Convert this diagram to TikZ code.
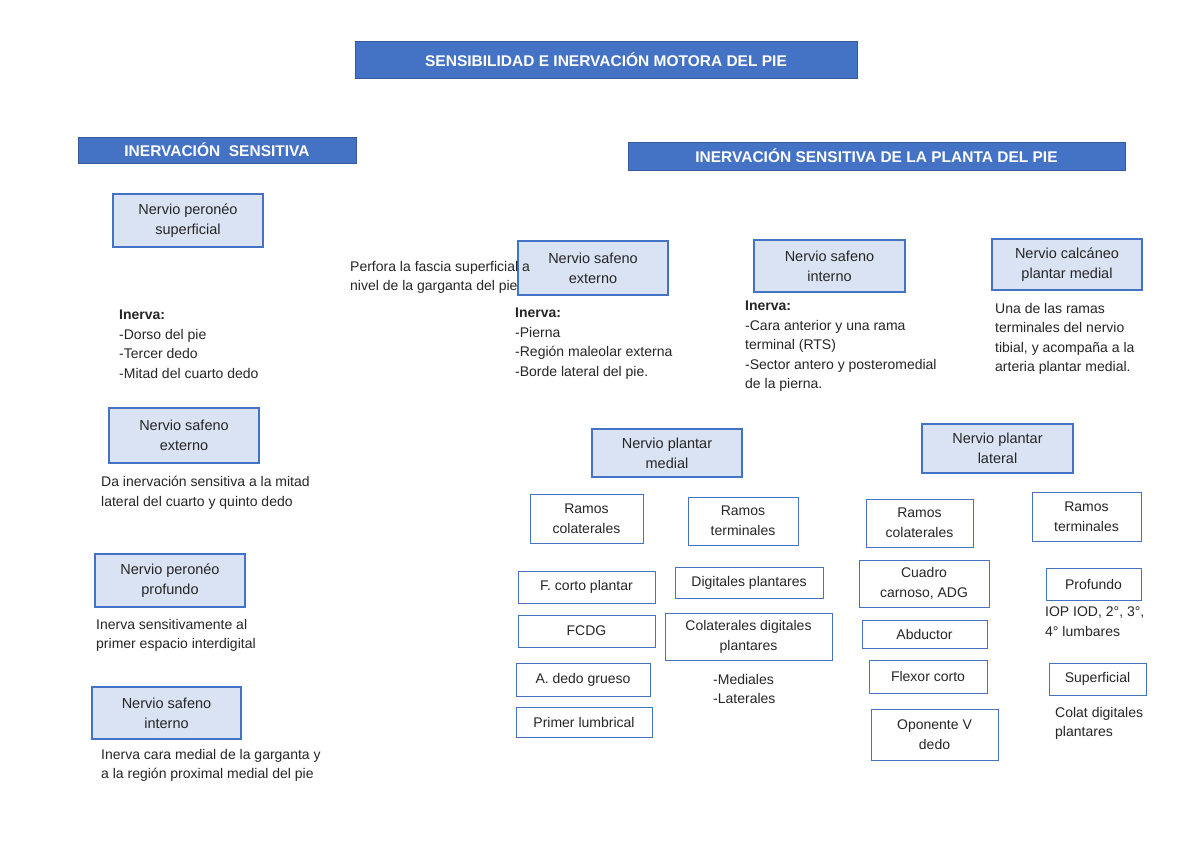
\documentclass[tikz,border=0pt]{standalone}
\usepackage{fontspec}
\setmainfont{Liberation Sans}
\definecolor{hb}{HTML}{4472C4}
\definecolor{lb}{HTML}{DAE3F3}
\definecolor{tx}{HTML}{262626}
\begin{document}
\begin{tikzpicture}[x=1pt,y=-1pt,
 hdr/.style={fill=hb,draw=hb!80!black,line width=0.8pt,text=white,font=\fontsize{15.5}{18}\selectfont\bfseries},
 nb/.style={fill=lb,draw=hb,line width=1.8pt,text=tx,align=center,font=\fontsize{14.5}{20}\selectfont},
 wb/.style={fill=white,draw=hb,line width=0.8pt,text=tx,align=center,font=\fontsize{14}{20}\selectfont},
 tt/.style={anchor=north west,align=left,text=tx,inner sep=0pt,font=\fontsize{14}{19.5}\selectfont}]
\useasboundingbox (0,0) rectangle (1200,848);
\fill[white] (0,0) rectangle (1200,848);
\newcommand\bx[6]{\node[#1,minimum width=#4-#2,minimum height=#5-#3,inner sep=1pt] (n#2x#3) at ({(#2+#4)/2},{(#3+#5)/2}) {#6};}
\bx{hdr}{355}{41}{857}{78}{SENSIBILIDAD E INERVACIÓN MOTORA DEL PIE}
\bx{hdr}{78}{137}{356}{163}{INERVACIÓN \ SENSITIVA}
\bx{hdr}{628}{142}{1125}{170}{INERVACIÓN SENSITIVA DE LA PLANTA DEL PIE}
\bx{nb}{113}{194}{263}{247}{Nervio peronéo\\superficial}
\bx{nb}{109}{408}{259}{463}{Nervio safeno\\externo}
\bx{nb}{95}{554}{245}{607}{Nervio peronéo\\profundo}
\bx{nb}{92}{687}{241}{739}{Nervio safeno\\interno}
\bx{nb}{518}{241}{668}{295}{Nervio safeno\\externo}
\bx{nb}{754}{240}{905}{292}{Nervio safeno\\interno}
\bx{nb}{992}{239}{1142}{290}{Nervio calcáneo\\plantar medial}
\bx{nb}{592}{429}{742}{477}{Nervio plantar\\medial}
\bx{nb}{922}{424}{1073}{473}{Nervio plantar\\lateral}
\bx{wb}{530}{494}{643}{543}{Ramos\\colaterales}
\bx{wb}{688}{497}{798}{545}{Ramos\\terminales}
\bx{wb}{866}{499}{973}{547}{Ramos\\colaterales}
\bx{wb}{1032}{492}{1141}{541}{Ramos\\terminales}
\bx{wb}{518}{571}{655}{603}{F. corto plantar}
\bx{wb}{518}{615}{655}{647}{FCDG}
\bx{wb}{516}{663}{650}{696}{A. dedo grueso}
\bx{wb}{516}{707}{652}{737}{Primer lumbrical}
\bx{wb}{675}{567}{823}{598}{Digitales plantares}
\bx{wb}{665}{613}{832}{660}{Colaterales digitales\\plantares}
\bx{wb}{859}{560}{989}{607}{Cuadro\\carnoso, ADG}
\bx{wb}{862}{620}{987}{648}{Abductor}
\bx{wb}{869}{660}{987}{693}{Flexor corto}
\bx{wb}{871}{709}{998}{760}{Oponente V\\dedo}
\bx{wb}{1046}{568}{1141}{600}{Profundo}
\bx{wb}{1049}{663}{1146}{695}{Superficial}
\node[tt] (t1) at (350,261) {Perfora la fascia superficial a\\nivel de la garganta del pie};
\node[tt] (t2) at (119,310) {\textbf{Inerva:}\\-Dorso del pie\\-Tercer dedo\\-Mitad del cuarto dedo};
\node[tt] (t3) at (515,308) {\textbf{Inerva:}\\-Pierna\\-Región maleolar externa\\-Borde lateral del pie.};
\node[tt] (t4) at (745,301) {\textbf{Inerva:}\\-Cara anterior y una rama\\terminal (RTS)\\-Sector antero y posteromedial\\de la pierna.};
\node[tt] (t5) at (995,303) {Una de las ramas\\terminales del nervio\\tibial, y acompaña a la\\arteria plantar medial.};
\node[tt] (t6) at (101,476) {Da inervación sensitiva a la mitad\\lateral del cuarto y quinto dedo};
\node[tt] (t7) at (96,619) {Inerva sensitivamente al\\primer espacio interdigital};
\node[tt] (t8) at (101,749) {Inerva cara medial de la garganta y\\a la región proximal medial del pie};
\node[tt] (t9) at (713,674) {-Mediales\\-Laterales};
\node[tt] (t10) at (1045,607) {IOP IOD, 2°, 3°,\\4° lumbares};
\node[tt] (t11) at (1055,707) {Colat digitales\\plantares};
\end{tikzpicture}
\end{document}
